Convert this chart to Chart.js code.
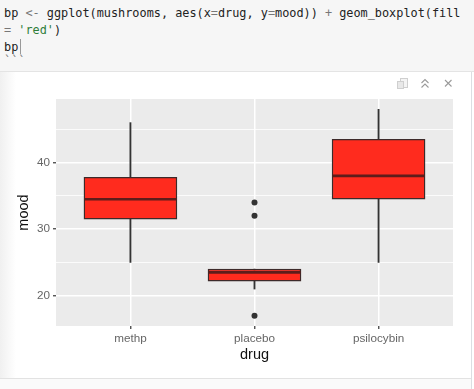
<!DOCTYPE html>
<html>
<head>
<meta charset="utf-8">
<style>
html,body{margin:0;padding:0;background:#fff;}
#page{position:relative;width:474px;height:389px;overflow:hidden;background:#fff;}
#code{position:absolute;left:0;top:0;width:474px;height:71px;background:#f6f6f6;border-bottom:1px solid #e4e4e4;}
.ln{position:absolute;left:4px;font:11.85px/14px "DejaVu Sans Mono",monospace;color:#222;white-space:pre;}
.gr{color:#2f7d3a}.op{color:#777}
#caret{position:absolute;left:19.5px;top:39px;width:1px;height:15px;background:#999;}
#fade{position:absolute;left:0;top:72px;width:16px;height:306px;background:linear-gradient(to right,#f0f0f0,#fff);}
#bottom{position:absolute;left:0;top:378px;width:471px;height:11px;background:#fafafa;border-top:1px solid #e2e2e2;}
#right{position:absolute;left:471px;top:72px;width:3px;height:317px;background:#fff;border-left:1.5px solid #dcdee2;box-sizing:border-box;}
canvas{position:absolute;left:0;top:0;}
#tools{position:absolute;left:390px;top:76px;}
</style>
</head>
<body>
<div id="page">
  <div id="code">
    <div class="ln" style="top:6px">bp <span class="op">&lt;-</span> ggplot(mushrooms, aes(x<span class="op">=</span>drug, y<span class="op">=</span>mood)) <span class="op">+</span> geom_boxplot(fill</div>
    <div class="ln" style="top:23px"><span class="op">=</span> <span class="gr">'red'</span>)</div>
    <div class="ln" style="top:40px">bp</div>
    <div id="caret"></div>
    <div class="ln" style="top:54px;color:#777">```</div>
  </div>
  <div id="fade"></div>
  <div id="bottom"></div>
  <div id="right"></div>
  <svg id="tools" width="70" height="16" viewBox="0 0 70 16" fill="none">
    <g stroke="#cfcfcf" stroke-width="1"><rect x="10.5" y="2.5" width="7" height="9" fill="#f4f4f4"/><rect x="7.5" y="5.5" width="6" height="7" fill="#e8e8e8"/></g>
    <g stroke="#9a9a9a" stroke-width="1.1"><path d="M31.5 7 L35 3.5 L38.5 7"/><path d="M31.5 11.5 L35 8 L38.5 11.5"/></g>
    <g stroke="#9a9a9a" stroke-width="1.1"><path d="M55 4 L61.5 10.5"/><path d="M61.5 4 L55 10.5"/></g>
  </svg>
  <canvas id="c" width="474" height="389"></canvas>
</div>
<script src="https://cdn.jsdelivr.net/npm/chart.js@4"></script>
<script>
const categories = ['methp', 'placebo', 'psilocybin'];
const positions = [1, 2, 3];
const q1 = [31.5, 22.2, 34.5];
const medians = [34.5, 23.5, 38];
const q3 = [37.8, 24, 43.5];
const whiskerLow = [25, 21, 25];
const whiskerHigh = [46, 24, 48];
const outlierX = [2, 2, 2];
const outlierY = [34, 32, 17];
const yTicks = [20, 25, 30, 35, 40, 45];
const yLabelled = [20, 30, 40];

const panelBg = {
  id: 'panelBg',
  beforeDraw(chart) {
    const a = chart.chartArea, g = chart.ctx;
    g.save();
    g.fillStyle = '#ebebeb';
    g.fillRect(a.left, a.top, a.width, a.height);
    g.restore();
  }
};

new Chart(document.getElementById('c'), {
  type: 'bar',
  plugins: [panelBg],
  data: {
    datasets: [
      {
        type: 'bar', grouped: false, order: 3, barThickness: 1.2,
        backgroundColor: '#333333', borderWidth: 0,
        data: positions.map((x, i) => ({ x, y: [whiskerLow[i], whiskerHigh[i]] }))
      },
      {
        type: 'bar', grouped: false, order: 2, barThickness: 93,
        backgroundColor: '#ff2b1e', borderColor: '#3d2a2a', borderWidth: 1.4, borderSkipped: false,
        data: positions.map((x, i) => ({ x, y: [q1[i], q3[i]] }))
      },
      {
        type: 'scatter', order: 1, showLine: false, pointStyle: 'line', pointRadius: 46, rotation: 0,
        pointBorderColor: '#5e1d1b', pointBorderWidth: 2.6,
        data: positions.map((x, i) => ({ x, y: medians[i] }))
      },
      {
        type: 'scatter', order: 0, showLine: false, pointStyle: 'circle', pointRadius: 3,
        pointBackgroundColor: '#333333', pointBorderWidth: 0,
        data: outlierX.map((x, i) => ({ x, y: outlierY[i] }))
      }
    ]
  },
  options: {
    responsive: false,
    animation: false,
    layout: { autoPadding: false, padding: { left: 0, top: 99, right: 21, bottom: 0 } },
    plugins: { legend: { display: false }, tooltip: { enabled: false } },
    scales: {
      x: {
        type: 'linear', min: 0.4, max: 3.6, offset: false,
        afterBuildTicks(s) { s.ticks = positions.map(v => ({ value: v })); },
        afterFit(s) { s.height = 63; },
        border: { display: false },
        grid: { offset: false, color: '#ffffff', lineWidth: 1.5, tickColor: '#444444', tickWidth: 1.3, tickLength: 3, z: 0 },
        ticks: {
          autoSkip: false, maxRotation: 0, padding: 3, color: '#666666',
          font: { family: 'Liberation Sans', size: 11.7 },
          callback: v => categories[positions.indexOf(v)]
        },
        title: { display: true, text: 'drug', color: '#111111', padding: { top: 3, bottom: 25 },
          font: { family: 'Liberation Sans', size: 14.5 } }
      },
      y: {
        type: 'linear', min: 15.45, max: 49.55,
        afterBuildTicks(s) { s.ticks = yTicks.map(v => ({ value: v })); },
        afterFit(s) { s.width = 56; },
        border: { display: false },
        grid: {
          color: '#ffffff',
          lineWidth: c => yLabelled.includes(c.tick && c.tick.value) ? 1.5 : 0.8,
          tickColor: c => yLabelled.includes(c.tick && c.tick.value) ? '#444444' : 'rgba(0,0,0,0)',
          tickWidth: 1.3, tickLength: 3
        },
        ticks: {
          autoSkip: false, padding: 3, color: '#666666',
          font: { family: 'Liberation Sans', size: 11.7 },
          callback: v => yLabelled.includes(v) ? String(v) : ''
        },
        title: { display: true, text: 'mood', color: '#111111', padding: { top: 15, bottom: 0 },
          font: { family: 'Liberation Sans', size: 14.5 } }
      }
    }
  }
});
</script>
</body>
</html>
